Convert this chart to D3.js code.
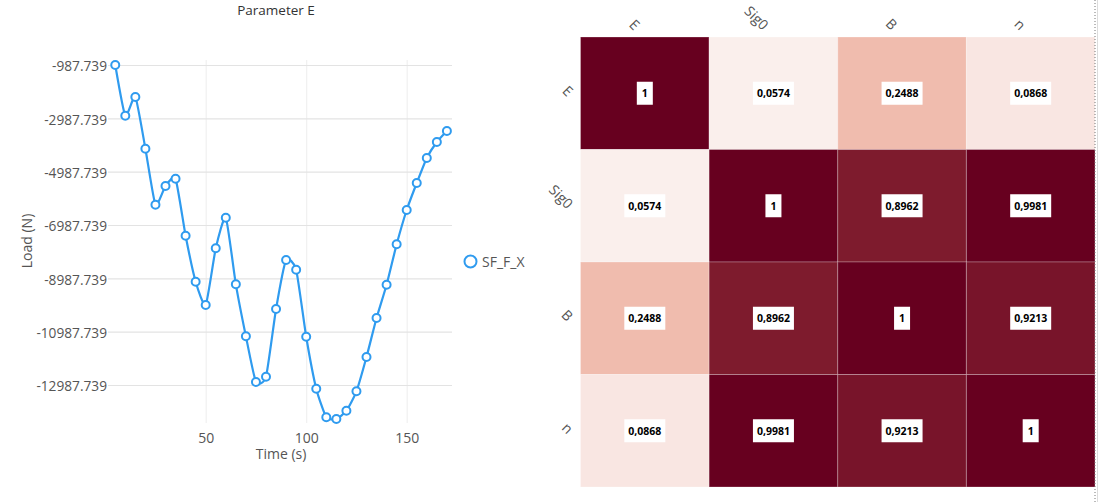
<!DOCTYPE html>
<html><head><meta charset="utf-8">
<script src="https://cdnjs.cloudflare.com/ajax/libs/d3/7.8.5/d3.min.js"></script>
<style>
html,body{margin:0;padding:0;background:#fff;overflow:hidden}
text{font-family:"Open Sans","Noto Sans",sans-serif}
</style></head><body>
<svg id="c" width="1106" height="502"></svg>
<script>
const times=[5,10,15,20,25,30,35,40,45,50,55,60,65,70,75,80,85,90,95,100,105,110,115,120,125,130,135,140,145,150,155,160,165,170];
const loads=[-988,-2889,-2188,-4127,-6227,-5525,-5252,-7389,-9114,-9988,-7862,-6714,-9212,-11162,-12875,-12677,-10138,-8300,-8664,-11177,-13127,-14199,-14263,-13952,-13224,-11938,-10475,-9227,-7712,-6425,-5413,-4475,-3875,-3463];
const yTicks=[-987.739,-2987.739,-4987.739,-6987.739,-8987.739,-10987.739,-12987.739];
const xTicks=[50,100,150];
const params=["E","Sig0","B","n"];
const corr=[[1,0.0574,0.2488,0.0868],[0.0574,1,0.8962,0.9981],[0.2488,0.8962,1,0.9213],[0.0868,0.9981,0.9213,1]];
const chartTitle="Parameter E", xTitle="Time (s)", yTitle="Load (N)", seriesName="SF_F_X";

const svg=d3.select("#c");
const blue="#2f9bef", txt="#555";

const x=d3.scaleLinear().domain([50,150]).range([205.7,406.7]);
const y=d3.scaleLinear().domain([-987.739,-12987.739]).range([65,385]);

const gx=svg.append("g").attr("transform","translate(0,423)")
  .call(d3.axisBottom(x).tickValues(xTicks).tickSize(-363).tickPadding(10).tickFormat(d3.format("d")));
gx.select(".domain").remove();
gx.selectAll("line").attr("stroke","#f0f0f0").attr("stroke-width",1.2);
gx.selectAll("text").attr("fill",txt).style("font-size","14px");

const gy=svg.append("g").attr("transform","translate(108,0)")
  .call(d3.axisLeft(y).tickValues(yTicks).tickSize(-344).tickPadding(1).tickFormat(d=>String(d)));
gy.select(".domain").remove();
gy.selectAll("line").attr("stroke","#e3e3e3").attr("stroke-width",1.2);
gy.selectAll("text").attr("fill",txt).attr("dy","0.42em").style("font-size","13.7px");

const pts=times.map((t,i)=>[t,loads[i]]);
const line=d3.line().x(d=>x(d[0])).y(d=>y(d[1])).curve(d3.curveCardinal.tension(0.45));
svg.append("path").datum(pts).attr("d",line).attr("fill","none").attr("stroke",blue).attr("stroke-width",2.2);
svg.append("g").selectAll("circle").data(pts).join("circle")
  .attr("cx",d=>x(d[0])).attr("cy",d=>y(d[1])).attr("r",4)
  .attr("fill","#fff").attr("stroke",blue).attr("stroke-width",2);

svg.append("text").attr("x",276).attr("y",15).attr("text-anchor","middle").attr("fill","#333").style("font-size","13.5px").text(chartTitle);
svg.append("text").attr("x",281).attr("y",459).attr("text-anchor","middle").attr("fill",txt).style("font-size","14px").text(xTitle);
svg.append("text").attr("transform","translate(32,241) rotate(-90)").attr("text-anchor","middle").attr("fill",txt).style("font-size","14px").text(yTitle);

svg.append("circle").attr("cx",470.5).attr("cy",261.5).attr("r",6).attr("fill","#fff").attr("stroke",blue).attr("stroke-width",2);
svg.append("text").attr("x",482).attr("y",267).attr("fill",txt).style("font-size","14px").text(seriesName);

// heatmap
const hx=d3.scaleBand().domain(params).range([580.5,1095]);
const hy=d3.scaleBand().domain(params).range([37,487]);
const color=d3.scaleLinear().domain([0,0.0574,0.0868,0.2488,0.8962,1])
  .range(["#ffffff","#faefec","#f9e6e2","#f0bcae","#7e1b2d","#67001f"]).clamp(true);
const cells=[];
params.forEach((r,i)=>params.forEach((c,j)=>cells.push({r,c,v:corr[i][j]})));
const g=svg.append("g");
g.selectAll("rect").data(cells).join("rect")
  .attr("x",d=>hx(d.c)).attr("y",d=>hy(d.r)).attr("width",hx.bandwidth()).attr("height",hy.bandwidth())
  .attr("fill",d=>color(d.v)).attr("stroke","rgba(255,255,255,0.25)").attr("stroke-width",1);
const lab=svg.append("g").selectAll("g").data(cells).join("g")
  .attr("transform",d=>`translate(${hx(d.c)+hx.bandwidth()/2},${hy(d.r)+hy.bandwidth()/2})`);
const fmt=v=>String(v).replace(".",",");
lab.append("rect").attr("x",d=>d.v===1?-8:-20.5).attr("y",-11.5).attr("width",d=>d.v===1?16:41).attr("height",23).attr("fill","#fff");
lab.append("text").attr("text-anchor","middle").attr("y",4).attr("fill","#000").style("font-size","10.5px").style("font-weight","700").text(d=>fmt(d.v));

svg.append("g").selectAll("text").data(params).join("text")
  .attr("transform",d=>`translate(${hx(d)+hx.bandwidth()/2-11},31) rotate(45)`)
  .attr("text-anchor","end").attr("fill",txt).style("font-size","14px").text(d=>d);
svg.append("g").selectAll("text").data(params).join("text")
  .attr("transform",d=>`translate(567,${hy(d)+hy.bandwidth()/2+4}) rotate(45)`)
  .attr("text-anchor","end").attr("fill",txt).style("font-size","14px").text(d=>d);

// panel edge
svg.append("line").attr("x1",1095).attr("x2",1095).attr("y1",0).attr("y2",502).attr("stroke","#777").attr("stroke-dasharray","1 2");
svg.append("line").attr("x1",1097.5).attr("x2",1097.5).attr("y1",0).attr("y2",502).attr("stroke","#dcdcdc");
</script>
</body></html>
